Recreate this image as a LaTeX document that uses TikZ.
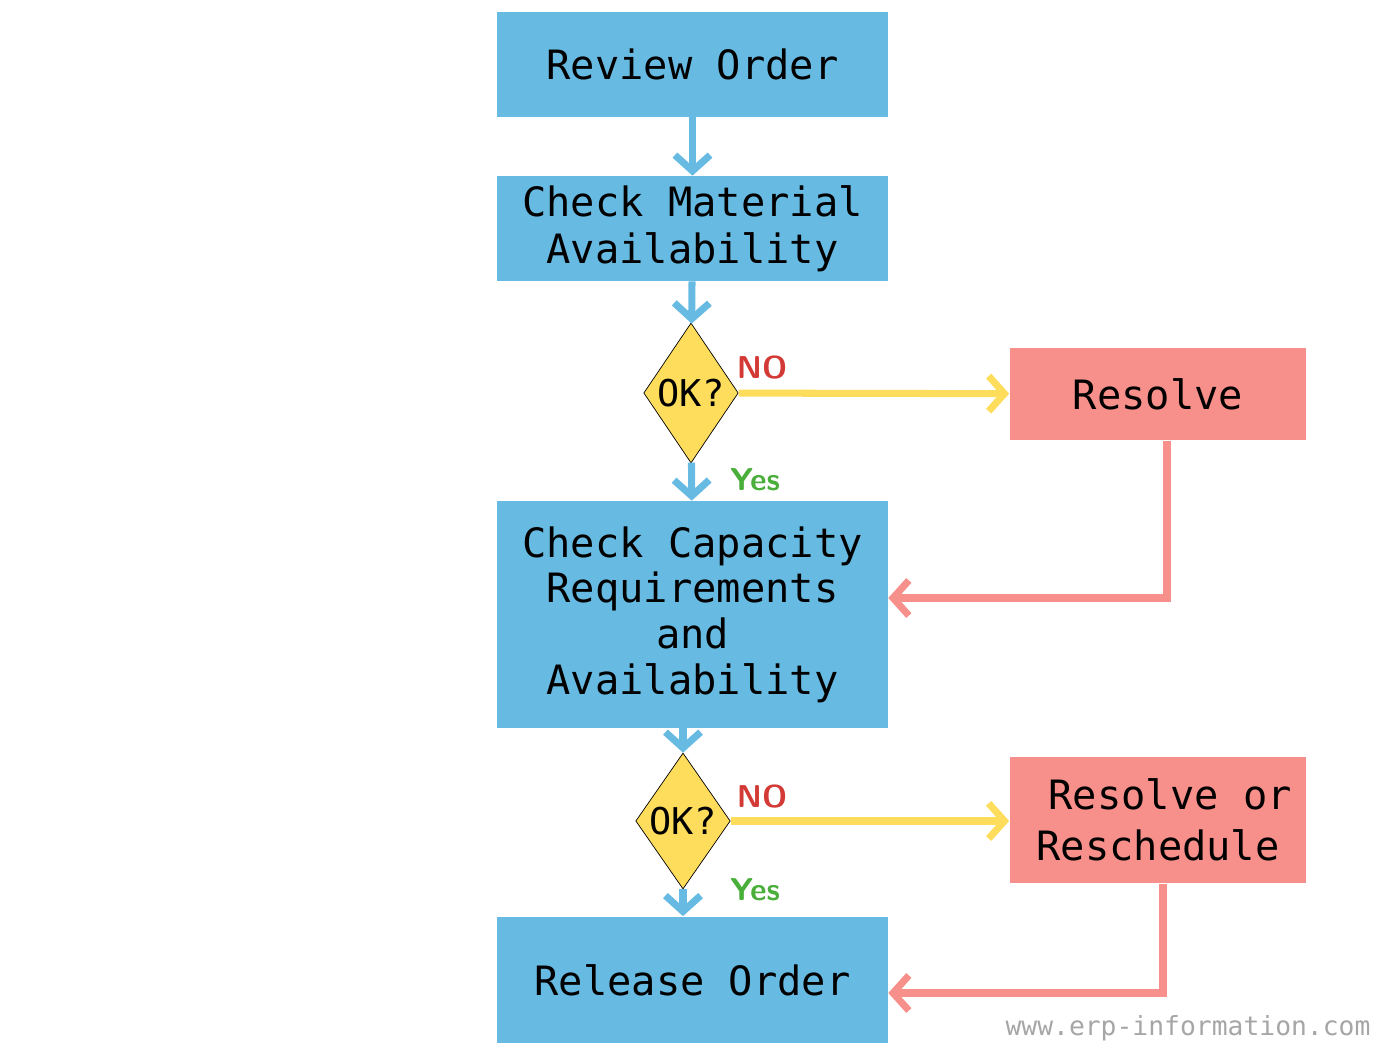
\documentclass[tikz,border=0pt]{standalone}
\usepackage{fontspec}
\setmonofont{DejaVu Sans Mono}
\usetikzlibrary{shapes.geometric,arrows.meta}
\definecolor{boxblue}{HTML}{67BBE3}
\definecolor{boxred}{HTML}{F78F8B}
\definecolor{dyellow}{HTML}{FEDD5C}
\definecolor{nored}{HTML}{D33A35}
\definecolor{yesgreen}{HTML}{4AAE3A}
\begin{document}
\begin{tikzpicture}[x=0.02cm,y=-0.02cm,
  stepbox/.style={fill=boxblue,minimum width=7.82cm,inner sep=0pt,align=center,font=\fontsize{23}{27}\selectfont\ttfamily},
  fixbox/.style={fill=boxred,minimum width=5.94cm,inner sep=0pt,align=center,font=\fontsize{23}{27}\selectfont\ttfamily},
  okq/.style={diamond,draw=black,thin,fill=dyellow,minimum width=1.8cm,minimum height=2.8cm,inner sep=0pt,font=\fontsize{21}{24}\selectfont\ttfamily},
  flow/.style={line width=4pt,-{Straight Barb[length=9pt,width=20pt]}}]
\useasboundingbox (0,0) rectangle (1400,1050);
% Main steps
\node[stepbox,minimum height=2.1cm] (review) at (692.5,64.5) {Review Order};
\node[stepbox,minimum height=2.1cm] (material) at (692.5,228.5) {Check Material\\ Availability};
\node[okq] (ok1) at (691,393) {OK?};
\node[fixbox,minimum height=1.86cm] (resolve) at (1158,394) {Resolve};
\node[stepbox,minimum height=4.54cm,font=\fontsize{23}{26}\selectfont\ttfamily] (capacity) at (692.5,614.5) {Check Capacity\\ Requirements\\ and\\ Availability};
\node[okq,minimum width=1.7cm,minimum height=2.72cm] (ok2) at (683,821) {OK?};
\node[fixbox,minimum height=2.54cm,font=\fontsize{23}{29}\selectfont\ttfamily] (reschedule) at (1158,820) {\ Resolve or\\ Reschedule};
\node[stepbox,minimum height=2.54cm] (release) at (692.5,980) {Release Order};
% Labels
\node[text=nored,font=\fontsize{18}{20}\selectfont\bfseries\sffamily] (no1) at (762,368) {NO};
\node[text=nored,font=\fontsize{18}{20}\selectfont\bfseries\sffamily] (no2) at (762,797) {NO};
\node[text=yesgreen,font=\fontsize{18}{20}\selectfont\bfseries\sffamily] (yes1) at (755,480) {Yes};
\node[text=yesgreen,font=\fontsize{18}{20}\selectfont\bfseries\sffamily] (yes2) at (755,890) {Yes};
\node[text=gray!70,font=\fontsize{15}{17}\selectfont\ttfamily] (site) at (1188,1028) {www.erp-information.com};
% Connectors
\draw[flow,boxblue] (review) -- (material);
\draw[flow,boxblue] (material) -- (ok1);
\draw[flow,boxblue] (ok1) -- (capacity);
\draw[flow,boxblue] (capacity.south -| ok2) -- (ok2);
\draw[flow,boxblue] (ok2) -- (release.north -| ok2);
\draw[flow,dyellow] (ok1) -- (resolve);
\draw[flow,dyellow] (ok2) -- (reschedule.west |- ok2);
\draw[flow,boxred] (resolve.south -| 1167,0) |- (capacity.east |- 0,598);
\draw[flow,boxred] (reschedule.south -| 1163,0) |- (release.east |- 0,993);
\end{tikzpicture}
\end{document}
